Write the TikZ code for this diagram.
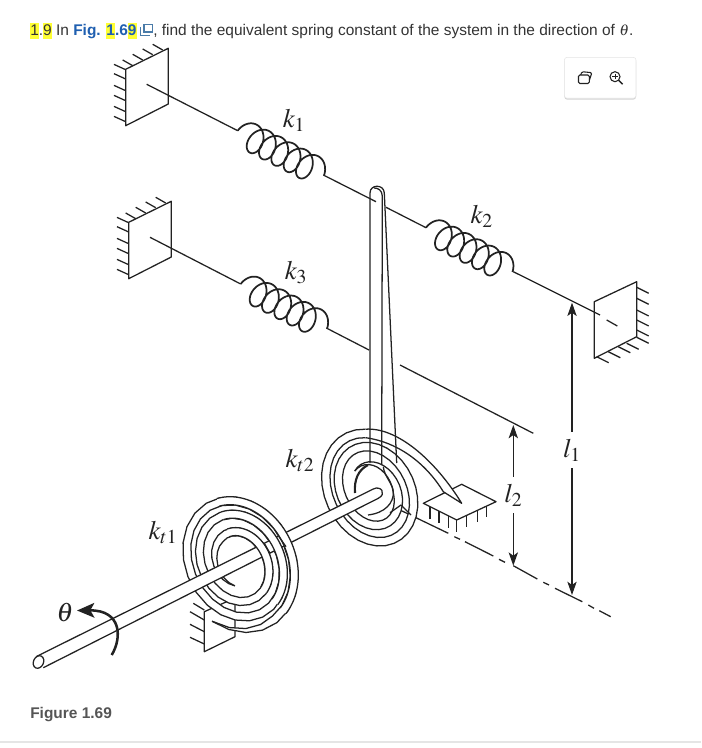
\documentclass[tikz,border=0pt]{standalone}
\usepackage{amsmath,amssymb}
\usepackage{mathptmx}
\usepackage{fontspec}
\setsansfont{Liberation Sans}
\usetikzlibrary{arrows.meta,shadows}
\definecolor{inkcol}{HTML}{222222}
\definecolor{textcol}{HTML}{333333}
\definecolor{linkcol}{HTML}{1F5FB0}
\definecolor{iconcol}{HTML}{4A7BA8}
\definecolor{capcol}{HTML}{555555}
\definecolor{markcol}{HTML}{FFFF33}
\setlength{\fboxsep}{0pt}
\newcommand{\yelmark}[1]{\colorbox{markcol}{\rule[-3pt]{0pt}{12.5pt}#1}}
% wall seen from the left, corner given
\newcommand{\leftwall}[2]{
\draw[wire] (#1+125.7,#2+69.3) -- (#1+168.3,#2+48.3) -- (#1+168.3,#2+104) -- (#1+125.7,#2+125.7) -- cycle;
\draw[wire] (#1+125.7,#2+69.7) -- ++(-11.7,-5.3) (#1+125.7,#2+79) -- ++(-11.7,-5.3) (#1+125.7,#2+90.7) -- ++(-11.7,-5.3)
 (#1+125.7,#2+100.7) -- ++(-11.7,-5.3) (#1+125.7,#2+111.7) -- ++(-11.7,-5.3) (#1+125.7,#2+121.7) -- ++(-11.7,-5.3);
\draw[wire] (#1+132.7,#2+65.7) -- ++(-10,-5.7) (#1+142.7,#2+60) -- ++(-10,-5.7) (#1+152.7,#2+54.7) -- ++(-10,-5.7) (#1+162.7,#2+50) -- ++(-10,-5.7);
}
% coil between the two wire ends: #1,#2 is the start
\newcommand{\coilspring}[2]{
\draw[coil] plot[domain=-90:1890,samples=260,smooth] ({#1+0.89*((\x+90)/26+10.5+10.5*sin(\x))+0.456*14*cos(\x)},{#2+0.456*((\x+90)/26+10.5+10.5*sin(\x))-0.89*14*cos(\x)});
}
% flat spiral strip: centre, radii at both ends, angles at both ends, width at the start
\newcommand{\setring}[9]{\def\ringcx{#1}\def\ringcy{#2}\def\ringaa{#3}\def\ringab{#4}\def\ringba{#5}\def\ringbb{#6}\def\ringTa{#7}\def\ringTb{#8}\def\ringbase{#9}}
\newcommand{\ringF}{((\x-\ringTa)/(\ringTb-\ringTa)*(0.6+0.4*(\x-\ringTa)/(\ringTb-\ringTa)))}
\newcommand{\ringA}{(\ringaa+(\ringab-\ringaa)*\ringF)}
\newcommand{\ringB}{(\ringba+(\ringbb-\ringba)*\ringF)}
\newcommand{\ringX}[1]{\ringcx+(\ringA-#1)*cos(\x)*0.447+(\ringB-#1)*sin(\x)*0.894}
\newcommand{\ringY}[1]{\ringcy+(\ringA-#1)*cos(\x)*0.894-(\ringB-#1)*sin(\x)*0.447}
\newcommand{\ringW}[1]{min(#1,\ringbase+(\x-\ringTa)/8,(\ringTb-\x)/16)}
\newcommand{\ringband}[3]{
\fill[white] plot[domain=#1:#2,samples=70] ({\ringX{0}},{\ringY{0}}) -- plot[domain=#2:#1,samples=70] ({\ringX{\ringW{#3}}},{\ringY{\ringW{#3}}}) -- cycle;
\draw[wire] plot[domain=#1:#2,samples=70] ({\ringX{0}},{\ringY{0}});
\draw[wire] plot[domain=#1:#2,samples=70] ({\ringX{\ringW{#3}}},{\ringY{\ringW{#3}}});
}
\tikzset{
wire/.style={draw=inkcol,line width=0.95pt,line join=round},
coil/.style={draw=inkcol,line width=1.3pt},
dimline/.style={draw=inkcol,line width=0.8pt,-{Stealth[length=10pt,width=7pt,inset=2.5pt]}},
figlabel/.style={text=inkcol,font=\fontsize{20}{22}\selectfont,inner sep=0pt},
dimlabel/.style={text=inkcol,font=\fontsize{20}{22}\selectfont,inner sep=0pt,minimum height=27pt},
webtext/.style={font=\sffamily\fontsize{11.6}{15}\selectfont,text=textcol,inner sep=0pt,anchor=base west},
}
\begin{document}
\begin{tikzpicture}[x=0.75pt,y=-0.75pt]
\useasboundingbox (0,0) rectangle (701,748);
% heading
\node[webtext] (headleft) at (30,35.5) {\yelmark{1}.\yelmark{9} In \textcolor{linkcol}{\textbf{Fig. \yelmark{1}.6\yelmark{9}}}};
\draw[iconcol,line width=0.9pt] (144,24.5) rectangle (152.5,32);
\draw[iconcol,line width=0.9pt] (140.8,27.5) -- (140.8,35.5) -- (149.5,35.5);
\node[webtext] (headright) at (153,35.5) {, find the equivalent spring constant of the system in the direction of \(\theta\).};
% toolbar
\node[fill=white,draw=black!10,rounded corners=2pt,minimum width=53.7pt,minimum height=30.7pt,inner sep=0pt,drop shadow={shadow xshift=0pt,shadow yshift=-1pt,opacity=0.35}] (toolbar) at (600.2,77.8) {};
\draw[inkcol,line width=0.8pt,rounded corners=1pt] (578.5,75) rectangle (589.3,83.5);
\draw[inkcol,line width=0.8pt,rounded corners=1pt] (580.7,75) -- (581.9,71.7) -- (591.9,72.7) -- (589.3,80.5);
\draw[inkcol,line width=0.8pt] (615,76.7) circle (5);
\draw[inkcol,line width=1pt] (618.6,80.3) -- (622.6,84.2);
\draw[inkcol,line width=0.7pt] (612.3,76.7) -- (617.7,76.7) (615,74) -- (615,79.4);
% walls and upper springs
\leftwall{0}{0}
\leftwall{3}{153}
\draw[wire] (146.7,84.3) -- (237.7,130.7);
\coilspring{237.7}{130.7}
\draw[wire] (323.3,175) -- (376,201.7);
\draw[wire] (386,207.3) -- (426,227.7);
\coilspring{426}{227.7}
\draw[wire] (513.3,271.7) -- (600,315);
\draw[wire] (606.7,320) -- (617.3,326);
\draw[wire] (594.3,301.7) -- (636.7,281.7) -- (636.7,336.7) -- (594.3,358.3) -- cycle;
\draw[wire] (636.7,287.3) -- ++(12,6) (636.7,298.3) -- ++(12,6) (636.7,310) -- ++(12,6) (636.7,320) -- ++(12,6) (636.7,330) -- ++(12,6);
\draw[wire] (596.7,356.7) -- ++(12,6) (608.3,351.7) -- ++(12,6) (618.3,346.7) -- ++(12,6) (626.7,343.3) -- ++(12,6) (636.7,337.3) -- ++(12,6);
\draw[wire] (150,237.3) -- (240.7,284);
\coilspring{240.7}{284}
\draw[wire] (326.3,328) -- (369,350);
\draw[wire] (400,365) -- (533.3,433.3);
% bottom reference line
\draw[wire] (400,510) -- (448.3,533.3) (454.3,536.7) -- (460,539.3) (465,541.7) -- (493.3,556) (499,559.3) -- (505,562.3) (513.3,565.7) -- (537.3,579) (543.3,582.3) -- (549,585) (555,588.3) -- (582.3,601.7) (588.3,605) -- (594,608.3) (599.3,610.7) -- (610.7,616.7);
% dimensions
\coordinate (loneup) at (572,302.7);
\coordinate (lonedown) at (572,595);
\coordinate (ltwoup) at (513.3,425);
\coordinate (ltwodown) at (513.3,565.7);
\node[dimlabel] (lone) at (572,450) {\( l_1 \)};
\node[dimlabel] (ltwo) at (513.3,495) {\( l_2 \)};
\draw[dimline] (lone) -- (loneup);
\draw[dimline] (lone) -- (lonedown);
\draw[dimline] (ltwo) -- (ltwoup);
\draw[dimline] (ltwo) -- (ltwodown);
% base plate of the rear spiral
\draw[wire,fill=white] (461.7,484.3) -- (496,501.7) -- (456.7,520) -- (423.3,503.3) -- cycle;
\draw[wire] (430,506.7) -- ++(0,12) (439,511) -- ++(0,12) (448.3,515.7) -- ++(0,12) (456.7,520) -- ++(0,12) (466.7,515.3) -- ++(0,12) (477.3,510.4) -- ++(0,12) (486.7,506) -- ++(0,11);
% rear spiral
\setring{372.5}{490.5}{64}{27}{50}{21}{155}{920}{9}
\ringband{155}{920}{8.5}
\coordinate (tailtip) at (461.7,503.3);
\draw[wire,fill=white] (365.5,429.2) .. controls (397,427) and (435,460) .. (tailtip) -- (443.3,491.7) .. controls (425,462) and (397,442) .. (365.7,437.7);
% lever
\draw[wire] (370,463) -- (370,193) .. controls (370,184) and (384,184) .. (384.3,193) -- (396.7,463);
\draw[wire] (381.7,465) -- (382.3,196) .. controls (382,190) and (378,188) .. (374,188);
% hub
\draw[wire] (383.3,466.7) .. controls (384,476) and (393,484) .. (393.3,491.7) .. controls (394,503) and (385,513) .. (368,515);
\draw[wire] (390,512.7) -- (401,505) -- (411,515);
\draw[inkcol,line width=1.6pt] (355,493) .. controls (354,480) and (358,470) .. (368,465);
% front wall
\draw[wire] (204.3,611.7) -- (235,598) -- (235,636.7) -- (204.3,651.7) -- cycle;
\draw[wire] (204.3,610) -- (193.3,603.3) (204.3,620) -- (190,611.7) (204.3,631.7) -- (190,624.3) (204.3,644) -- (190,637.3);
% front spiral
\setring{238}{562}{74}{26}{60}{21}{-56}{1040}{0}
\ringband{-56}{1040}{8}
% shaft
\draw[wire,fill=white] (36,656.7) -- (373.3,489) .. controls (381,485) and (387,494) .. (378.3,498.3) -- (43.3,667.7);
\draw[wire,fill=white,rotate around={-25:(38.5,662)}] (38.5,662) ellipse [x radius=5,y radius=6.5];
% spiral parts in front of the shaft
\ringband{20}{170}{8}
\ringband{380}{530}{8}
\ringband{740}{890}{8}
\draw[wire] (264.3,543.3) -- (270,553.3) (279,536.7) -- (286,546.7);
% theta arrow
\coordinate (thetafrom) at (111.7,655);
\coordinate (thetato) at (77,610.5);
\draw[inkcol,line width=1.9pt,-{Stealth[length=13pt,width=11pt,inset=3pt]}] (thetafrom) .. controls (122,638) and (122,610) .. (thetato);
% labels
\node[figlabel] (kone) at (294,120.7) {\( k_1 \)};
\node[figlabel] (ktwo) at (481.7,216.7) {\( k_2 \)};
\node[figlabel] (kthree) at (296,272.7) {\( k_3 \)};
\node[figlabel] (ktatwo) at (300,460) {\( k_{t2} \)};
\node[figlabel] (ktaone) at (163,532) {\( k_{t1} \)};
\node[figlabel] (thetalabel) at (65,612.7) {\( \theta \)};
% caption
\node[webtext,text=capcol] (caption) at (30,718.5) {\textbf{Figure 1.69}};
\fill[black!10] (0,741) rectangle (701,742.5);
\end{tikzpicture}
\end{document}
